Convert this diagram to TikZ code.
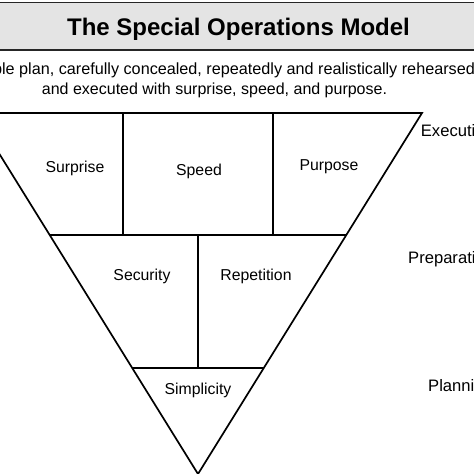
\documentclass[tikz,border=0pt]{standalone}
\usepackage{fontspec}
\setmainfont{Liberation Sans}
\usetikzlibrary{positioning}
\definecolor{bandgray}{HTML}{E4E4E4}

\begin{document}
\begin{tikzpicture}[x=1pt, y=-1pt,
    cell/.style={font=\fontsize{15.8}{18}\selectfont, inner sep=0pt, anchor=base},
    side/.style={font=\fontsize{16.6}{19}\selectfont, inner sep=0pt, anchor=base west},
    quote/.style={font=\fontsize{16}{20}\selectfont, inner sep=0pt, anchor=base},
    rule/.style={line width=1.7pt}]
    \useasboundingbox (0,0) rectangle (474,474);
    \clip (0,0) rectangle (474,474);

    % title band
    \fill[bandgray] (-10,2.5) rectangle (484,50);
    \draw[rule, black!85] (-10,2.5) -- (484,2.5);
    \draw[rule, black!85] (-10,50) -- (484,50);
    \node[font=\fontsize{24}{28}\selectfont\bfseries, inner sep=0pt, anchor=base] (title) at (238.5,35) {The Special Operations Model};

    % quote
    \node[quote, font=\fontsize{16.2}{20}\selectfont] (quote1) at (216,74) {A simple plan, carefully concealed, repeatedly and realistically rehearsed,};
    \node[quote] (quote2) at (214.5,94) {and executed with surprise, speed, and purpose.};

    % inverted triangle
    \draw[rule, line join=miter] (-26,113) -- (422,113) -- (198,474) -- cycle;
    \draw[rule] (49.7,235) -- (346.3,235);
    \draw[rule] (132.2,368) -- (263.8,368);
    \draw[rule] (123,113) -- (123,235);
    \draw[rule] (273,113) -- (273,235);
    \draw[rule] (198,235) -- (198,368);

    % principles
    \node[cell] (surprise) at (75,172.7) {Surprise};
    \node[cell] (speed) at (199,175) {Speed};
    \node[cell] (purpose) at (329,170.7) {Purpose};
    \node[cell] (security) at (142,280.7) {Security};
    \node[cell] (repetition) at (256,280.7) {Repetition};
    \node[cell] (simplicity) at (198,394.3) {Simplicity};

    % phases
    \node[side] (execution) at (420.7,136.7) {Execution};
    \node[side] (preparation) at (408,263.3) {Preparation};
    \node[side] (planning) at (428,391.7) {Planning};
\end{tikzpicture}
\end{document}
